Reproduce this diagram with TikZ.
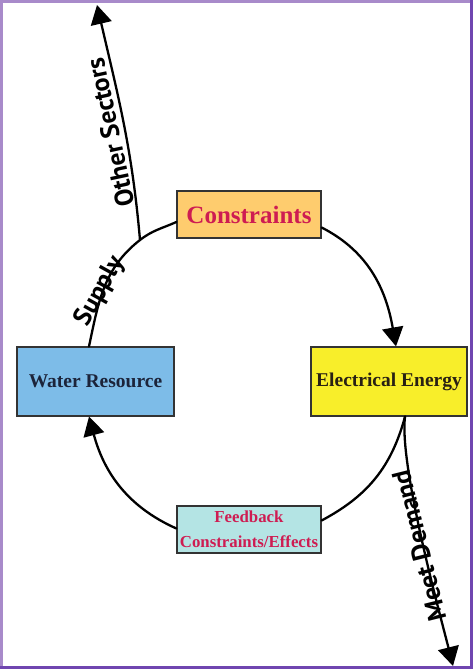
\documentclass[tikz,border=0pt]{standalone}
\usepackage{fontspec}
\setmainfont{Liberation Serif}
\newfontfamily\lblfont{PT Sans}
\usetikzlibrary{arrows.meta}
\definecolor{frameL}{RGB}{168,138,202}
\definecolor{frameR}{RGB}{112,70,176}
\definecolor{cfill}{RGB}{254,204,110}
\definecolor{wfill}{RGB}{125,188,232}
\definecolor{efill}{RGB}{248,238,42}
\definecolor{ffill}{RGB}{180,228,228}
\definecolor{redtxt}{RGB}{206,28,82}
\definecolor{navytxt}{RGB}{28,36,58}
\definecolor{darktxt}{RGB}{40,32,20}
\tikzset{
  box/.style={draw=black!80, line width=1.2pt, inner sep=0pt, align=center},
  link/.style={line width=2.3pt, black, line cap=round},
  arr/.style={link, -{Triangle[length=19pt,width=21pt]}},
  lbl/.style={inner sep=0pt, font=\lblfont\bfseries\fontsize{26}{28}\selectfont}
}
\begin{document}
\begin{tikzpicture}
\useasboundingbox (0,0) rectangle (474pt,669pt);
\begin{scope}[x=1pt,y=1pt]
% frame
\draw[frameL, line width=3pt] (1.5,0) -- (1.5,667.5) -- (472,667.5);
\draw[frameR, line width=3pt] (471,669) -- (471,1.5) -- (0,1.5);
% boxes
\node[box, fill=cfill, minimum width=144pt, minimum height=47pt,
      text=redtxt, font=\bfseries\fontsize{25}{30}\selectfont] (C) at (249,454.5) {Constraints};
\node[box, fill=wfill, minimum width=157pt, minimum height=69pt,
      text=navytxt, font=\bfseries\fontsize{19.5}{24}\selectfont] (W) at (95.5,287.5) {Water Resource};
\node[box, fill=efill, minimum width=156pt, minimum height=69pt,
      text=darktxt, font=\bfseries\fontsize{19.5}{24}\selectfont] (E) at (389,287.5) {Electrical Energy};
\node[box, fill=ffill, minimum width=144pt, minimum height=47pt,
      text=redtxt, font=\bfseries\fontsize{16.8}{25}\selectfont] (F) at (249,139.5) {Feedback\\Constraints/Effects};
% free ends and branch point
\coordinate (top) at (97,664);
\coordinate (bot) at (453,3);
\coordinate (br) at (140,429);
% cycle
\draw[arr] ([yshift=-13pt]C.east) to[out=-27,in=100] ([xshift=7pt]E.north);
\draw[link] ([xshift=16pt]E.south) to[out=-105,in=28] ([yshift=9pt]F.east);
\draw[arr] ([yshift=1pt]F.west) to[out=156,in=-75] ([xshift=-6.5pt]W.south);
\draw[link] ([xshift=-6.5pt]W.north) to[out=78,in=218] (br) to[out=38,in=204] ([yshift=-7.5pt]C.west);
% branches
\draw[arr] (br) to[out=95,in=-77] (top);
\draw[arr] ([xshift=16pt]E.south) to[out=-97,in=104,looseness=0.5] (bot);
% labels
\node[lbl, rotate=102] (los) at (110,536.5) {Other Sectors};
\node[lbl, rotate=61, anchor=base] (lsu) at (106,374.5) {Supply};
\node[lbl, rotate=104] (lmd) at (419,123) {Meet Demand};
\end{scope}
\end{tikzpicture}
\end{document}
